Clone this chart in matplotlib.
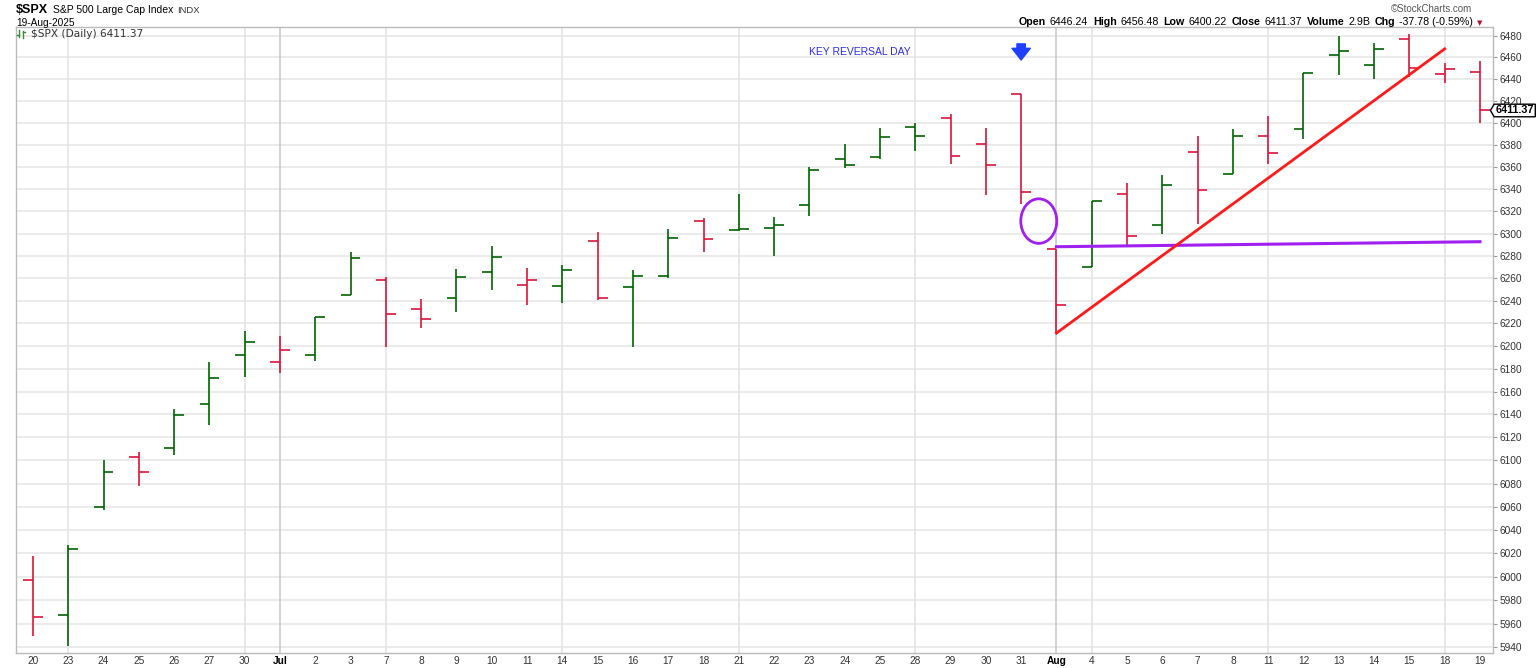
import numpy as np
import pandas as pd
import matplotlib
matplotlib.use("Agg")
import matplotlib.pyplot as plt
from matplotlib.patches import Ellipse
from matplotlib.path import Path
from matplotlib.lines import Line2D
from matplotlib.ticker import FixedLocator, FixedFormatter, NullLocator

plt.rcParams['font.family'] = ['Liberation Sans', 'DejaVu Sans']

## daily OHLC for $SPX
dates = ["2025-06-20", "2025-06-23", "2025-06-24", "2025-06-25", "2025-06-26", "2025-06-27",
         "2025-06-30", "2025-07-01", "2025-07-02", "2025-07-03", "2025-07-07", "2025-07-08",
         "2025-07-09", "2025-07-10", "2025-07-11", "2025-07-14", "2025-07-15", "2025-07-16",
         "2025-07-17", "2025-07-18", "2025-07-21", "2025-07-22", "2025-07-23", "2025-07-24",
         "2025-07-25", "2025-07-28", "2025-07-29", "2025-07-30", "2025-07-31", "2025-08-01",
         "2025-08-04", "2025-08-05", "2025-08-06", "2025-08-07", "2025-08-08", "2025-08-11",
         "2025-08-12", "2025-08-13", "2025-08-14", "2025-08-15", "2025-08-18", "2025-08-19"]
opens = [5997.2, 5967.1, 6059.7, 6102.8, 6110.7, 6149.2, 6192.0, 6185.9, 6192.0, 6245.2,
         6258.2, 6232.8, 6242.6, 6266.0, 6254.4, 6253.5, 6293.8, 6252.6, 6262.4, 6311.5,
         6303.3, 6305.4, 6325.6, 6367.2, 6369.0, 6396.7, 6404.6, 6380.8, 6426.3, 6286.1,
         6270.1, 6335.6, 6307.8, 6373.5, 6353.9, 6388.5, 6394.3, 6462.3, 6453.4, 6476.7,
         6444.9, 6446.24]
highs = [6017.2, 6027.3, 6100.4, 6107.4, 6145.1, 6185.9, 6213.8, 6209.1, 6225.7, 6283.7,
         6260.9, 6242.0, 6268.0, 6289.1, 6268.9, 6272.2, 6301.3, 6267.1, 6304.0, 6313.9,
         6335.6, 6315.1, 6359.6, 6380.8, 6395.2, 6400.3, 6408.2, 6395.8, 6426.3, 6286.1,
         6328.9, 6345.5, 6352.4, 6388.5, 6394.3, 6406.4, 6446.1, 6479.7, 6473.0, 6481.3,
         6454.7, 6456.48]
lows = [5949.9, 5941.1, 6056.8, 6077.5, 6104.8, 6130.4, 6172.8, 6176.3, 6186.8, 6245.2,
        6199.6, 6215.9, 6229.8, 6250.0, 6236.0, 6237.8, 6240.4, 6199.6, 6260.4, 6284.0,
        6302.7, 6280.4, 6315.7, 6358.7, 6367.2, 6374.1, 6362.4, 6335.0, 6326.2, 6211.5,
        6270.1, 6288.4, 6299.7, 6308.7, 6353.9, 6362.4, 6385.3, 6444.0, 6440.0, 6441.9,
        6436.9, 6400.22]
closes = [5965.4, 6023.6, 6090.3, 6090.1, 6139.6, 6171.6, 6203.5, 6196.4, 6225.7, 6278.1,
          6228.4, 6223.9, 6261.5, 6279.1, 6258.3, 6267.8, 6242.6, 6262.4, 6296.4, 6295.3,
          6304.2, 6308.1, 6357.5, 6361.8, 6387.6, 6388.3, 6369.6, 6362.1, 6337.7, 6236.3,
          6328.9, 6297.9, 6344.2, 6338.9, 6388.5, 6372.6, 6445.5, 6465.7, 6467.5, 6449.8,
          6449.15, 6411.37]
volume_text = "2.9B"

## hand drawn annotations (index, price)
note_text = "KEY REVERSAL DAY"
note_pos = (23.43, 6465)
arrow_x = 28
arrow_top, arrow_tip = 6472.4, 6457.6
circle_center = (28.5, 6311.3)
circle_size = (1.02, 40)
support_line = ([29, 41], [6288.3, 6292.8])
trend_line = ([29, 40], [6211.5, 6467.8])

UP = '#006400'
DOWN = '#dc143c'
W, H = 1536, 668


def fx(px):
    return px / W


def fy(py):
    return 1 - py / H


def tag_box(x0, y0, width, height, mutation_size):
    # price tag with a point on the left
    pad = 0.12 * mutation_size
    x0, y0 = x0 - pad, y0 - pad
    x1, y1 = x0 + width + 2 * pad, y0 + height + 2 * pad
    tip = (y1 - y0) * 0.3
    verts = [(x0, y0), (x1, y0), (x1, y1), (x0, y1), (x0 - tip, (y0 + y1) / 2), (x0, y0)]
    return Path(verts, closed=True)


d = pd.to_datetime(dates)
opens = np.array(opens)
highs = np.array(highs)
lows = np.array(lows)
closes = np.array(closes)
x = np.arange(len(d))
prev = np.r_[opens[0], closes[:-1]]
colors = [UP if c > p else DOWN for c, p in zip(closes, prev)]

fig = plt.figure(figsize=(W / 100, H / 100), dpi=100)
ax = fig.add_axes([fx(16), fy(652.7), fx(1493 - 16), (652.7 - 27.3) / H])
ax.set_yscale('log')
ax.set_xlim(-0.48, 41.37)
ax.set_ylim(5935.4, 6487.7)

# grid
yticks = np.arange(5940, 6481, 20)
for v in yticks:
    ax.axhline(v, color='#e8e8e8', lw=1.2, zorder=0)
for i in range(1, len(d)):
    if d[i].month != d[i - 1].month:
        ax.axvline(i, color='#c8c8c8', lw=1.1, zorder=0)
    elif d[i].weekday() < d[i - 1].weekday():
        ax.axvline(i, color='#e2e2e2', lw=1.1, zorder=0)

# OHLC bars
ax.vlines(x, lows, highs, colors=colors, lw=1.2, zorder=3)
ax.hlines(opens, x - 0.28, x, colors=colors, lw=1.2, zorder=3)
ax.hlines(closes, x, x + 0.28, colors=colors, lw=1.2, zorder=3)

# annotations
ax.plot(*support_line, color='#a020f0', lw=2.2, zorder=4)
ax.plot(*trend_line, color='#ff1a1a', lw=2, zorder=4)
ax.add_patch(Ellipse(circle_center, circle_size[0], circle_size[1], fill=False,
                     ec='#a020f0', lw=2, zorder=4))
ax.annotate('', xy=(arrow_x, arrow_tip), xytext=(arrow_x, arrow_top),
            arrowprops=dict(arrowstyle='simple,head_width=1.1,head_length=0.7,tail_width=0.5',
                            color='#1f3fff', shrinkA=0, shrinkB=0, mutation_scale=12))
ax.text(note_pos[0], note_pos[1], note_text, color='#2a2ae8', fontsize=7.5,
        ha='center', va='center')

# axes
ax.yaxis.tick_right()
ax.yaxis.set_major_locator(FixedLocator(yticks))
ax.yaxis.set_major_formatter(FixedFormatter([str(v) for v in yticks]))
ax.yaxis.set_minor_locator(NullLocator())
ax.tick_params(axis='y', length=3, width=0.8, color='#999999', pad=1.5,
               labelsize=7.3, labelcolor='#333333')

labels = []
for i in range(len(d)):
    if i > 0 and d[i].month != d[i - 1].month:
        labels.append(d[i].strftime('%b'))
    else:
        labels.append(str(d[i].day))
ax.set_xticks(x)
ax.set_xticklabels(labels)
ax.tick_params(axis='x', length=0, pad=2.5, labelsize=7.3, labelcolor='#333333')
for t in ax.get_xticklabels():
    if not t.get_text().isdigit():
        t.set_fontweight('bold')
        t.set_color('black')

for s in ax.spines.values():
    s.set_color('#bbbbbb')
    s.set_linewidth(1)

# last price tag
ax.annotate(f"{closes[-1]:.2f}", xy=(1, closes[-1]), xycoords=('axes fraction', 'data'),
            xytext=(1.8, 0), textcoords='offset points', ha='left', va='center',
            fontsize=7.8, fontweight='bold', annotation_clip=False, zorder=10,
            bbox=dict(boxstyle=tag_box, fc='white', ec='black', lw=1))

# header
fig.text(fx(16), fy(10), "$SPX", fontsize=9, fontweight='bold', va='center', ha='left')
fig.text(fx(52.7), fy(10), "S&P 500 Large Cap Index", fontsize=7.5, va='center', ha='left')
fig.text(fx(177), fy(10.5), "INDX", fontsize=6.8, va='center', ha='left', color='#333333')
fig.text(fx(16), fy(22.7), d[-1].strftime('%d-%b-%Y'), fontsize=7.3, va='center', ha='left')
fig.text(fx(30.7), fy(34), f"$SPX (Daily) {closes[-1]:.2f}", family='DejaVu Sans',
         fontsize=7.6, va='center', ha='left', color='#333333')
fig.add_artist(Line2D([fx(19), fx(19)], [fy(30), fy(37)], color='#3a8a3a', lw=1))
fig.add_artist(Line2D([fx(17), fx(19)], [fy(35), fy(35)], color='#3a8a3a', lw=1))
fig.add_artist(Line2D([fx(23), fx(23)], [fy(31), fy(38)], color='#3a8a3a', lw=1))
fig.add_artist(Line2D([fx(23), fx(25)], [fy(32), fy(32)], color='#3a8a3a', lw=1))

fig.text(fx(1471.7), fy(9), "\u00a9StockCharts.com", fontsize=7, va='center', ha='right',
         color='#555555')

chg = closes[-1] - closes[-2]
pct = chg / closes[-2] * 100
parts = [("Open", True), (f"{opens[-1]:.2f}", False), ("High", True), (f"{highs[-1]:.2f}", False),
         ("Low", True), (f"{lows[-1]:.2f}", False), ("Close", True), (f"{closes[-1]:.2f}", False),
         ("Volume", True), (volume_text, False), ("Chg", True), (f"{chg:.2f} ({pct:.2f}%)", False)]
prev_t = fig.text(fx(1019), fy(21.7), parts[0][0], fontsize=7.65, fontweight='bold',
                  va='center', ha='left')
for s, bold in parts[1:]:
    prev_t = ax.annotate(s, xy=(1, 0), xycoords=prev_t, xytext=(3.7 if bold else 2.5, 0),
                         textcoords='offset points', va='bottom', ha='left', fontsize=7.65,
                         fontweight='bold' if bold else 'normal', annotation_clip=False)
ax.annotate("\u25bc", xy=(1, 0), xycoords=prev_t, xytext=(2.5, 0.5), textcoords='offset points',
            va='bottom', ha='left', fontsize=5, color='#b0103a', family='DejaVu Sans',
            annotation_clip=False)

plt.savefig("out.png", dpi=100)
